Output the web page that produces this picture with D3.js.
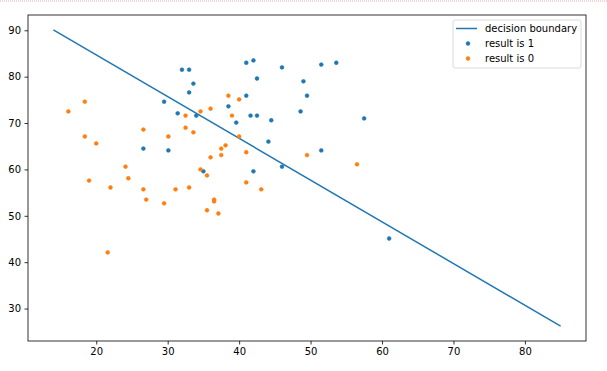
<!DOCTYPE html>
<html>
<head>
<meta charset="utf-8">
<script src="https://cdn.jsdelivr.net/npm/d3@7"></script>
<style>
  body { margin: 0; background: #fff; }
  text { font-family: "DejaVu Sans", sans-serif; font-size: 10px; fill: #000; }
</style>
</head>
<body>
<div id="chart"></div>
<script>
// decision boundary endpoints
const boundaryX = [14.0, 85.0];
const boundaryY = [90.1, 26.2];

// result is 1
const posX = [32.0, 33.0, 33.6, 33.0, 29.5, 31.4, 34.0, 38.5, 26.6, 30.1, 41.0, 42.0, 46.0, 51.5, 53.6, 42.5,
  49.0, 41.0, 49.5, 48.6, 41.6, 42.5, 44.5, 39.6, 57.5, 44.1, 51.5, 35.0, 42.0, 46.0, 61.0];
const posY = [81.5, 81.5, 78.5, 76.6, 74.6, 72.1, 71.6, 73.6, 64.5, 64.1, 83.0, 83.5, 82.0, 82.6, 83.0, 79.6,
  79.0, 75.9, 75.9, 72.5, 71.6, 71.6, 70.6, 70.1, 71.0, 66.0, 64.1, 59.6, 59.6, 60.6, 45.1];

// result is 0
const negX = [18.4, 16.1, 32.5, 34.6, 36.0, 38.5, 26.6, 32.5, 33.6, 30.1, 18.4, 20.0, 37.5, 38.1, 37.5, 40.0,
  39.0, 40.0, 41.0, 49.5, 36.0, 24.1, 19.0, 24.5, 22.0, 26.6, 31.1, 33.0, 34.6, 35.5, 27.0, 29.5,
  36.5, 36.5, 35.5, 37.1, 21.6, 56.5, 41.0, 43.1];
const negY = [74.6, 72.5, 71.6, 72.5, 73.1, 75.9, 68.6, 69.0, 68.0, 67.1, 67.1, 65.6, 64.5, 65.2, 63.1, 75.1,
  71.6, 67.1, 63.7, 63.1, 62.6, 60.6, 57.6, 58.1, 56.1, 55.7, 55.7, 56.1, 60.0, 58.7, 53.5, 52.7,
  53.5, 53.1, 51.2, 50.5, 42.1, 61.1, 57.2, 55.7];

const xTicks = [20, 30, 40, 50, 60, 70, 80];
const yTicks = [30, 40, 50, 60, 70, 80, 90];

const BLUE = "#1f77b4";
const ORANGE = "#ff7f0e";
const DOT_R = 1.9;

const width = 607;
const height = 371;
const margin = { top: 15, right: 21, bottom: 30, left: 28 };

// matplotlib style 5% margins around the data
function paddedExtent(values) {
  const [lo, hi] = d3.extent(values);
  const pad = (hi - lo) * 0.05;
  return [lo - pad, hi + pad];
}

const x = d3
  .scaleLinear()
  .domain(paddedExtent([...boundaryX, ...posX, ...negX]))
  .range([margin.left, width - margin.right]);

const y = d3
  .scaleLinear()
  .domain(paddedExtent([...boundaryY, ...posY, ...negY]))
  .range([height - margin.bottom, margin.top]);

const svg = d3
  .select("#chart")
  .append("svg")
  .attr("width", width)
  .attr("height", height);

// faint notebook border at the very top
svg
  .append("line")
  .attr("x1", 0)
  .attr("x2", width)
  .attr("y1", 1)
  .attr("y2", 1)
  .style("stroke", "#f6d3d8")
  .style("stroke-width", 2)
  .style("stroke-dasharray", "1,1");

const plot = svg.append("g");

// decision boundary
plot
  .append("path")
  .datum(d3.zip(boundaryX, boundaryY))
  .attr("d", d3.line().x((d) => x(d[0])).y((d) => y(d[1])))
  .style("fill", "none")
  .style("stroke", BLUE)
  .style("stroke-width", 1.5);

function drawPoints(xs, ys, color) {
  plot
    .append("g")
    .selectAll("circle")
    .data(d3.zip(xs, ys))
    .enter()
    .append("circle")
    .attr("cx", (d) => x(d[0]))
    .attr("cy", (d) => y(d[1]))
    .attr("r", DOT_R)
    .style("fill", color)
    .style("stroke", color)
    .style("stroke-width", 0.6);
}

drawPoints(posX, posY, BLUE);
drawPoints(negX, negY, ORANGE);

// axes
const xAxis = svg
  .append("g")
  .attr("transform", `translate(0,${height - margin.bottom})`)
  .call(d3.axisBottom(x).tickValues(xTicks).tickSize(3.5).tickPadding(3.5).tickSizeOuter(0));

const yAxis = svg
  .append("g")
  .attr("transform", `translate(${margin.left},0)`)
  .call(d3.axisLeft(y).tickValues(yTicks).tickSize(3.5).tickPadding(3.5).tickSizeOuter(0));

[xAxis, yAxis].forEach((axis) => {
  axis.select(".domain").remove();
  axis.selectAll("line").style("stroke", "#000").style("stroke-width", 0.8);
  axis.selectAll("text").style("font-family", '"DejaVu Sans", sans-serif').style("font-size", "10px");
});

// spines
svg
  .append("rect")
  .attr("x", margin.left)
  .attr("y", margin.top)
  .attr("width", width - margin.left - margin.right)
  .attr("height", height - margin.top - margin.bottom)
  .style("fill", "none")
  .style("stroke", "#000")
  .style("stroke-width", 0.8);

// legend
const legendItems = [
  { label: "decision boundary", kind: "line", color: BLUE },
  { label: "result is 1", kind: "dot", color: BLUE },
  { label: "result is 0", kind: "dot", color: ORANGE },
];

const legendRight = width - margin.right - 5;
const legendWidth = 128;
const legend = svg
  .append("g")
  .attr("transform", `translate(${legendRight - legendWidth},${margin.top + 5})`);

legend
  .append("rect")
  .attr("width", legendWidth)
  .attr("height", 48)
  .attr("rx", 2)
  .style("fill", "rgba(255,255,255,0.8)")
  .style("stroke", "#d0d0d0")
  .style("stroke-width", 0.8);

const rows = legend
  .selectAll(".legend-row")
  .data(legendItems)
  .enter()
  .append("g")
  .attr("class", "legend-row")
  .attr("transform", (d, i) => `translate(0,${8.5 + i * 15})`);

rows.each(function (d) {
  const row = d3.select(this);
  if (d.kind === "line") {
    row
      .append("line")
      .attr("x1", 3)
      .attr("x2", 24)
      .style("stroke", d.color)
      .style("stroke-width", 1.5);
  } else {
    row
      .append("circle")
      .attr("cx", 15)
      .attr("r", DOT_R)
      .style("fill", d.color)
      .style("stroke", d.color)
      .style("stroke-width", 0.6);
  }
  row
    .append("text")
    .attr("x", 32)
    .attr("dy", "0.35em")
    .text(d.label);
});
</script>
</body>
</html>
